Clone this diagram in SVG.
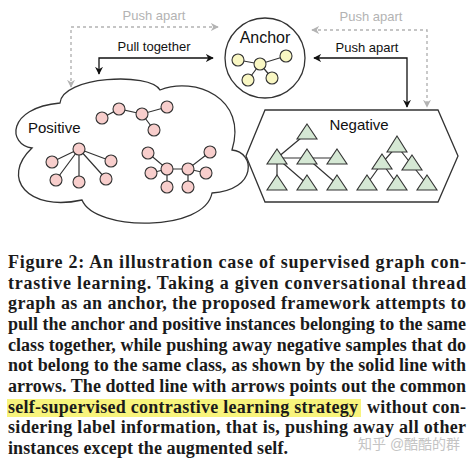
<svg xmlns="http://www.w3.org/2000/svg" width="474" height="466" viewBox="0 0 474 466">
<defs>
<style>
.lbl{font-family:"Liberation Sans",Arial,sans-serif;fill:#111;}
.big{font-size:15px;}
.arrtxt{font-size:13px;}
.grey{fill:#b3b3b3;}
.shape{fill:#fff;stroke:#333;stroke-width:1.3;}
.edge{stroke:#333;stroke-width:1.2;fill:none;}
.pn{fill:#f8cecc;stroke:#333;stroke-width:1.1;}
.an{fill:#f9f7c3;stroke:#333;stroke-width:1.1;}
.tri{fill:#d5e8d4;stroke:#333;stroke-width:1.1;}
.solid{stroke:#111;stroke-width:1.3;fill:none;}
.dot{stroke:#b3b3b3;stroke-width:1.4;fill:none;stroke-dasharray:3 3;}
.cap{font-family:"Liberation Serif","Times New Roman",serif;font-weight:bold;font-size:18px;fill:#1a1a1a;}
.wm{font-family:"Liberation Sans","Noto Sans CJK SC",sans-serif;font-size:14px;fill:#c4c4c4;}
</style>
<marker id="ab" viewBox="0 0 10 10" refX="9" refY="5" markerWidth="8" markerHeight="8" markerUnits="userSpaceOnUse" orient="auto-start-reverse">
<path d="M0,0 L10,5 L0,10 L3,5 z" fill="#111"/>
</marker>
<marker id="ag" viewBox="0 0 10 10" refX="9" refY="5" markerWidth="8" markerHeight="8" markerUnits="userSpaceOnUse" orient="auto-start-reverse">
<path d="M0,0 L10,5 L0,10 L3,5 z" fill="#b3b3b3"/>
</marker>
</defs>
<rect width="474" height="466" fill="#fff"/>

<g id="connectors">
<path class="dot" d="M71,87 L71,27 L218,27" marker-start="url(#ag)" marker-end="url(#ag)"/>
<path class="dot" d="M312,30 L427,30 L427,107" marker-start="url(#ag)" marker-end="url(#ag)"/>
<path class="solid" d="M99,74 L99,58 L213,58" marker-start="url(#ab)" marker-end="url(#ab)"/>
<path class="solid" d="M314,58 L407,58 L407,107" marker-start="url(#ab)" marker-end="url(#ab)"/>
<text class="lbl arrtxt grey" x="154" y="20" text-anchor="middle">Push apart</text>
<text class="lbl arrtxt" x="154" y="51" text-anchor="middle">Pull together</text>
<text class="lbl arrtxt grey" x="371" y="21" text-anchor="middle">Push apart</text>
<text class="lbl arrtxt" x="367" y="52" text-anchor="middle">Push apart</text>
</g>

<g id="anchor">
<circle class="shape" cx="265" cy="58" r="40"/>
<text class="lbl" x="265" y="43" text-anchor="middle" font-size="16">Anchor</text>
<path class="edge" d="M238,60 L260,64 L286,56 M260,64 L248,80 M260,64 L272,78"/>
<circle class="an" cx="238" cy="60" r="6"/>
<circle class="an" cx="260" cy="64" r="6"/>
<circle class="an" cx="286" cy="56" r="6"/>
<circle class="an" cx="248" cy="80" r="6"/>
<circle class="an" cx="272" cy="78" r="6"/>
</g>

<g id="positive">
<path class="shape" d="M32,148 C8,145 6,108 60,103 C62,76 150,72 160,90 C195,76 248,98 232,150 C255,152 258,190 212,193 C205,232 95,232 82,200 C28,212 0,178 32,148 Z"/>
<text class="lbl big" x="28" y="133">Positive</text>
<path class="edge" d="M102,118 L119,109 L142,114 L167,107 M142,114 L154,130"/>
<path class="edge" d="M79,149 L52,162 M79,149 L111,161 M79,149 L56,180 M79,149 L79,182 M79,149 L106,179"/>
<path class="edge" d="M148,153 L167,169 L188,169 L210,152 M167,169 L151,173 M167,169 L167,187 M188,169 L206,173 M188,169 L188,187"/>
<circle class="pn" cx="102" cy="118" r="6"/>
<circle class="pn" cx="119" cy="109" r="6"/>
<circle class="pn" cx="142" cy="114" r="6"/>
<circle class="pn" cx="167" cy="107" r="6"/>
<circle class="pn" cx="154" cy="130" r="6"/>
<circle class="pn" cx="79" cy="149" r="6"/>
<circle class="pn" cx="52" cy="162" r="6"/>
<circle class="pn" cx="111" cy="161" r="6"/>
<circle class="pn" cx="56" cy="180" r="6"/>
<circle class="pn" cx="79" cy="182" r="6"/>
<circle class="pn" cx="106" cy="179" r="6"/>
<circle class="pn" cx="148" cy="153" r="6"/>
<circle class="pn" cx="210" cy="152" r="6"/>
<circle class="pn" cx="167" cy="169" r="6"/>
<circle class="pn" cx="188" cy="169" r="6"/>
<circle class="pn" cx="151" cy="173" r="6"/>
<circle class="pn" cx="206" cy="173" r="6"/>
<circle class="pn" cx="167" cy="187" r="6"/>
<circle class="pn" cx="188" cy="187" r="6"/>
</g>

<g id="negative">
<polygon class="shape" points="265,110 438,110 458,156 438,202 265,202 246,156"/>
<text class="lbl big" x="359" y="130" text-anchor="middle">Negative</text>
<path class="edge" d="M307,133 L277,158 L337,158 M277,158 L277,184 M277,158 L307,184 M307,158 L337,184"/>
<path class="edge" d="M397,146 L382,163 L367,184 M382,163 L397,184 M397,146 L412,165 L427,184"/>
<g class="tri">
<path d="M307,124 L317,139 L297,139 Z"/>
<path d="M277,149 L287,164 L267,164 Z"/>
<path d="M307,149 L317,164 L297,164 Z"/>
<path d="M337,149 L347,164 L327,164 Z"/>
<path d="M277,175 L287,190 L267,190 Z"/>
<path d="M307,175 L317,190 L297,190 Z"/>
<path d="M337,175 L347,190 L327,190 Z"/>
<path d="M397,136 L407,152 L387,152 Z"/>
<path d="M382,154 L392,169 L372,169 Z"/>
<path d="M412,155 L422,170 L402,170 Z"/>
<path d="M367,175 L377,190 L357,190 Z"/>
<path d="M397,175 L407,190 L387,190 Z"/>
<path d="M427,175 L437,190 L417,190 Z"/>
</g>
</g>

<g id="caption">
<rect x="7" y="399" width="354" height="18" fill="#f8f47c"/>
<text class="cap" x="8" y="268" textLength="458" lengthAdjust="spacing">Figure 2: An illustration case of supervised graph con-</text>
<text class="cap" x="8" y="288.7" textLength="458" lengthAdjust="spacing">trastive learning. Taking a given conversational thread</text>
<text class="cap" x="8" y="309.3" textLength="458" lengthAdjust="spacing">graph as an anchor, the proposed framework attempts to</text>
<text class="cap" x="8" y="330" textLength="458" lengthAdjust="spacing">pull the anchor and positive instances belonging to the same</text>
<text class="cap" x="8" y="350.7" textLength="458" lengthAdjust="spacing">class together, while pushing away negative samples that do</text>
<text class="cap" x="8" y="371.3" textLength="458" lengthAdjust="spacing">not belong to the same class, as shown by the solid line with</text>
<text class="cap" x="8" y="392" textLength="458" lengthAdjust="spacing">arrows. The dotted line with arrows points out the common</text>
<text class="cap" x="8" y="412.7" textLength="350" lengthAdjust="spacing">self-supervised contrastive learning strategy</text>
<text class="cap" x="367" y="412.7" textLength="99" lengthAdjust="spacing">without con-</text>
<text class="cap" x="8" y="433.3" textLength="458" lengthAdjust="spacing">sidering label information, that is, pushing away all other</text>
<text class="cap" x="8" y="454" textLength="280" lengthAdjust="spacing">instances except the augmented self.</text>
<text class="wm" x="358" y="449">知乎 @酷酷的群</text>
</g>
</svg>
